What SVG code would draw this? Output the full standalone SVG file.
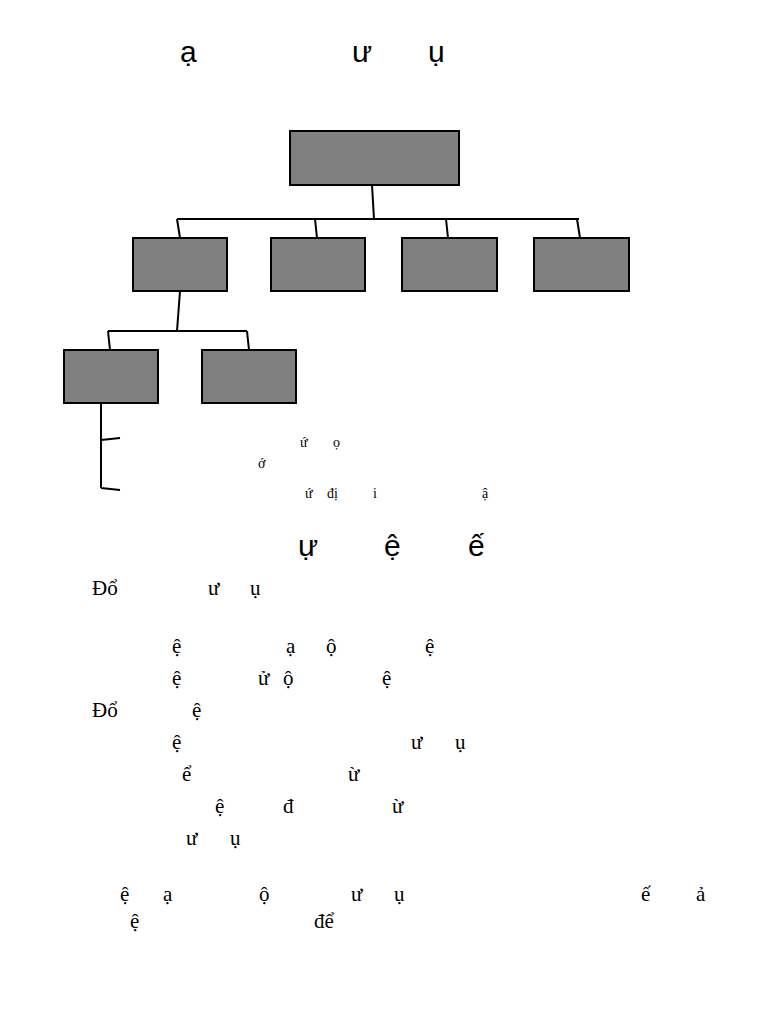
<svg xmlns="http://www.w3.org/2000/svg" width="768" height="1024" viewBox="0 0 768 1024">
<style>
.b{fill:#808080;stroke:#000;stroke-width:2}
.c{fill:none;stroke:#000;stroke-width:2}
.t{font-family:"Liberation Sans",Arial,sans-serif;font-size:30px}
.s{font-family:"Liberation Serif","Times New Roman",serif;font-size:21px}
.x{font-family:"Liberation Serif","Times New Roman",serif;font-size:14px}
</style>
<rect width="768" height="1024" fill="#fff"/>
<g id="title"><text class="t" x="180" y="62">ạ</text><text class="t" x="352" y="62">ư</text><text class="t" x="428" y="62">ụ</text></g>
<g id="n0"><rect class="b" x="290" y="131" width="169" height="54"/></g>
<g id="n1"><rect class="b" x="133" y="238" width="94" height="53"/></g>
<g id="n2"><rect class="b" x="271" y="238" width="94" height="53"/></g>
<g id="n3"><rect class="b" x="402" y="238" width="95" height="53"/></g>
<g id="n4"><rect class="b" x="534" y="238" width="95" height="53"/></g>
<g id="n5"><rect class="b" x="64" y="350" width="94" height="53"/></g>
<g id="n6"><rect class="b" x="202" y="350" width="94" height="53"/></g>
<g id="connectors">
<path class="c" d="M372 185L374 219M177 219H579M177 219L180 238M315 219L317 238M446 219L448 238M577 219L580 238"/>
<path class="c" d="M180 291L177 331M108 331H247M108 331L110 350M247 331L249 350"/>
<path class="c" d="M101 403V488M101 440L120 438M101 488L120 490"/>
</g>
<g id="texts">
<text class="x" x="300" y="447">ứ</text><text class="x" x="333" y="447">ọ</text>
<text class="x" x="258" y="468">ớ</text>
<text class="x" x="305" y="498">ứ</text><text class="x" x="327" y="498">đị</text><text class="x" x="373" y="498">i</text><text class="x" x="482" y="498">ậ</text>
<text class="t" x="298" y="556">ự</text><text class="t" x="384" y="556">ệ</text><text class="t" x="468" y="556">ế</text>
<text class="s" x="92" y="595">Đổ</text><text class="s" x="208" y="595">ư</text><text class="s" x="250" y="595">ụ</text>
<text class="s" x="172" y="653">ệ</text><text class="s" x="286" y="653">ạ</text><text class="s" x="326" y="653">ộ</text><text class="s" x="425" y="653">ệ</text>
<text class="s" x="172" y="685">ệ</text><text class="s" x="258" y="685">ử</text><text class="s" x="283" y="685">ộ</text><text class="s" x="382" y="685">ệ</text>
<text class="s" x="92" y="717">Đổ</text><text class="s" x="192" y="717">ệ</text>
<text class="s" x="172" y="749">ệ</text><text class="s" x="411" y="749">ư</text><text class="s" x="455" y="749">ụ</text>
<text class="s" x="182" y="781">ể</text><text class="s" x="348" y="781">ừ</text>
<text class="s" x="215" y="813">ệ</text><text class="s" x="283" y="813">đ</text><text class="s" x="392" y="813">ừ</text>
<text class="s" x="186" y="845">ư</text><text class="s" x="230" y="845">ụ</text>
<text class="s" x="120" y="901">ệ</text><text class="s" x="163" y="901">ạ</text><text class="s" x="259" y="901">ộ</text><text class="s" x="351" y="901">ư</text><text class="s" x="394" y="901">ụ</text><text class="s" x="641" y="901">ế</text><text class="s" x="696" y="901">ả</text>
<text class="s" x="130" y="928">ệ</text><text class="s" x="314" y="928">để</text>
</g>
</svg>
